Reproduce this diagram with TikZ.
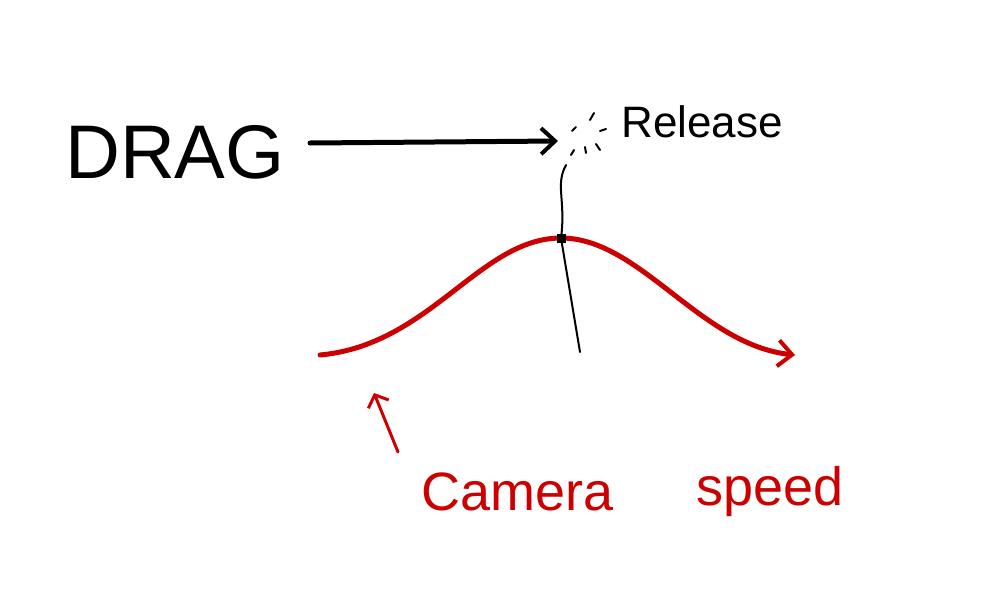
\documentclass[tikz,border=0pt]{standalone}
\usepackage{fontspec}
\setmainfont{Liberation Sans}
\usetikzlibrary{arrows.meta}
\definecolor{sketchred}{RGB}{204,0,0}
\tikzset{
  stroke/.style={line width=5pt,line cap=round},
  thinstroke/.style={line width=2pt,line cap=round},
  sketchtip/.style={-{Straight Barb[length=14pt,width=26pt,line width=4pt]}},
}
\begin{document}
\begin{tikzpicture}[x=1pt,y=-1pt]
	\useasboundingbox [fill=white] (0,0) rectangle (990,595);
	% labels
	\node (drag) at (175,152) {\fontsize{76}{76}\selectfont DRAG};
	\node (release) at (702,122) {\fontsize{44}{44}\selectfont Release};
	\node [text=sketchred] (camera) at (518,492) {\fontsize{54}{54}\selectfont Camera};
	\node [text=sketchred] (speed) at (770,492) {\fontsize{54}{54}\selectfont speed};
	% anchor points
	\coordinate (dragend) at (558,141);
	\coordinate (dragstart) at (310,143);
	\coordinate (peak) at (561,238);
	\coordinate (curvestart) at (320,355);
	\coordinate (curveend) at (795,355);
	\coordinate (marktop) at (566,165);
	\coordinate (markbot) at (580,352);
	\coordinate (uptail) at (398,452);
	\coordinate (uphead) at (374,393);
	% drag arrow
	\draw [stroke,sketchtip] (dragstart) -- (dragend);
	% release sparks
	\foreach \a/\b/\c/\d in {572/131/576/127, 590/120/594/113, 600/131/606/129, 585/147/586/153, 596/144/600/150, 574/150/571/155}
		\draw [thinstroke] (\a,\b) -- (\c,\d);
	% release marker
	\draw [thinstroke] (marktop) .. controls (555,185) and (566,200) .. (peak) -- (markbot);
	% camera speed curve
	\draw [stroke,draw=sketchred,sketchtip] (curvestart) .. controls (430,345) and (480,238) .. (peak)
		.. controls (640,238) and (700,345) .. (curveend);
	\node [fill=black,minimum size=9pt,inner sep=0pt] (peakmark) at (peak) {};
	% pointer to curve start
	\draw [thinstroke,line width=3pt,draw=sketchred,-{Straight Barb[length=10pt,width=22pt,line width=3pt]}] (uptail) -- (uphead);
\end{tikzpicture}
\end{document}
